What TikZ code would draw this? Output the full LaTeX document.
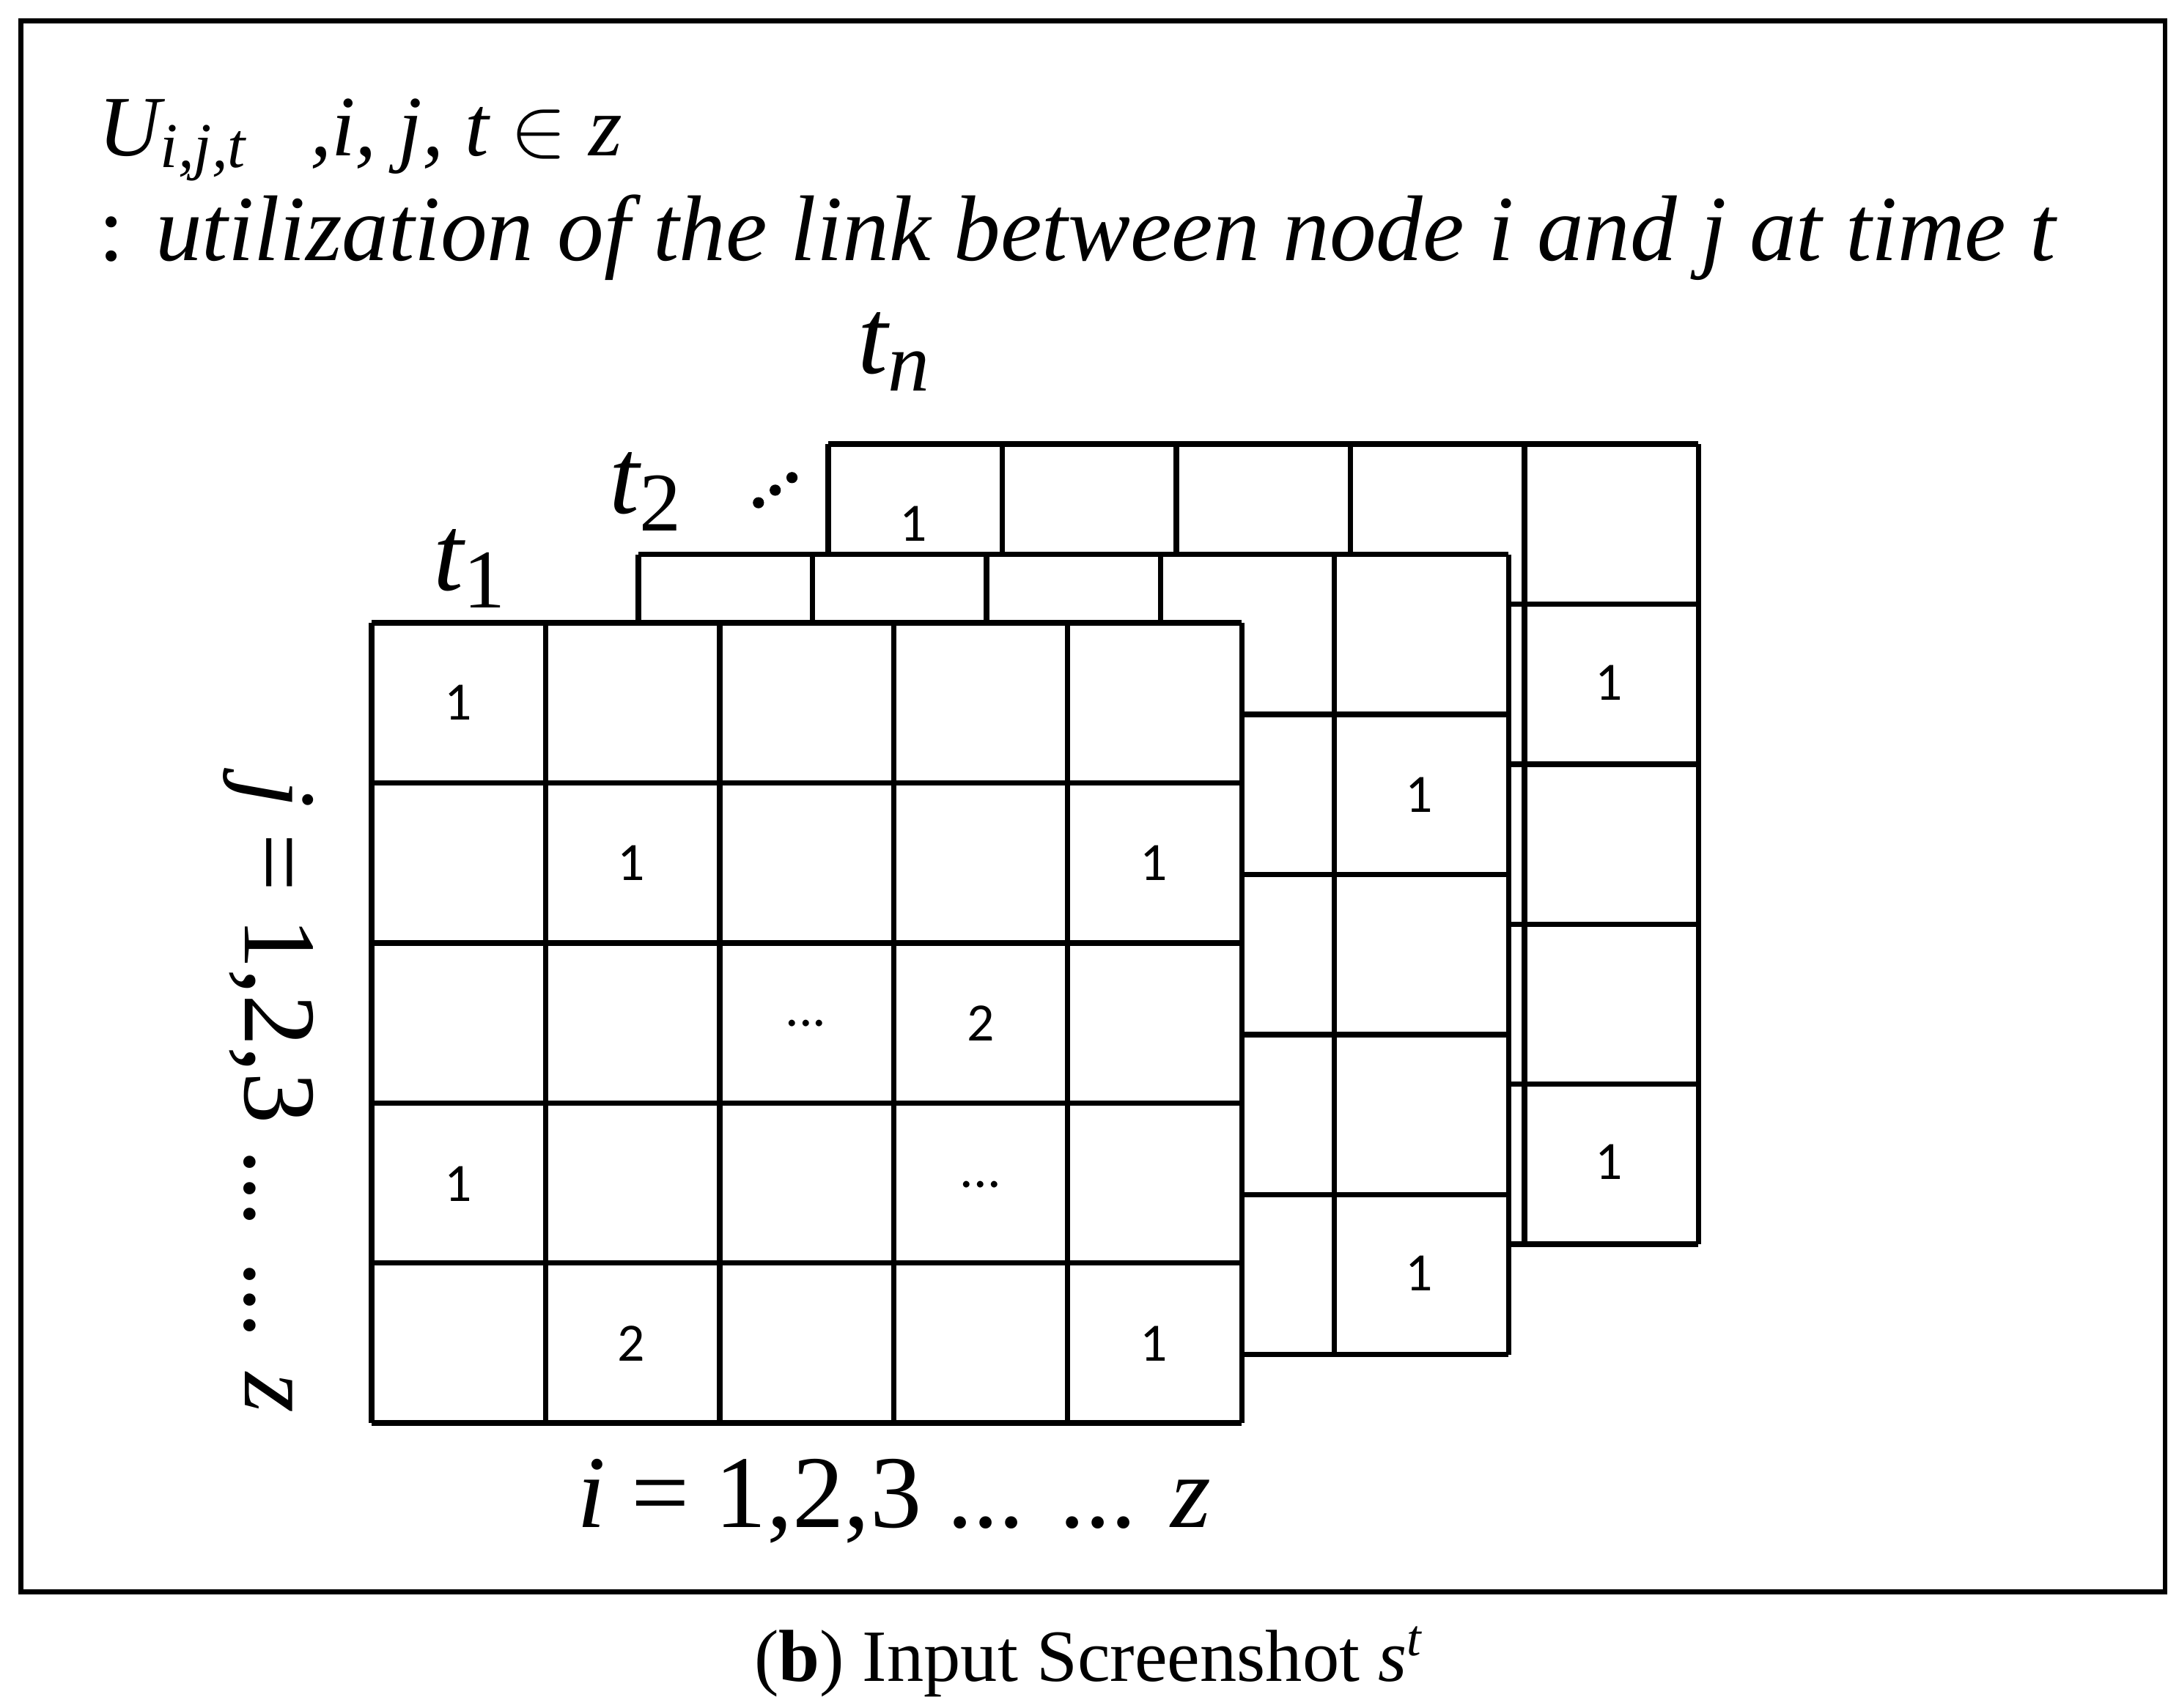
\documentclass[tikz,border=0pt]{standalone}
\usepackage{fontspec}
\newfontfamily\carlitofont{Carlito}
\newfontfamily\serifit{Liberation Serif}
\begin{document}
\begin{tikzpicture}[x=0.01cm,y=-0.01cm,
  cellnum/.style={font=\carlitofont\fontsize{11}{13}\selectfont},
  grid/.style={line width=1.1pt},
  biglab/.style={font=\serifit\fontsize{21}{24}\selectfont}]
\useasboundingbox (0,0) rectangle (1560,1223);
\draw[line width=1pt] (15,15) rectangle (1550,1140);
\node[anchor=west,font=\serifit\itshape\fontsize{17.5}{20}\selectfont] (hdr) at (58,100) {U\raisebox{-0.3ex}{\fontsize{13}{14}\selectfont i,j,t}\ \ \ ,i, j, t $\in$ z};
\node[anchor=west,font=\serifit\itshape\fontsize{19}{22}\selectfont] (def) at (58,170) {{\upshape:} utilization of the link between node i and j at time t};
\foreach \ox/\oy/\nm in {593/318/gn,457/397/g2,266/446/g1}{
  \fill[white] (\ox,\oy) rectangle ++(623,573);
  \foreach \k in {0,...,5}{
    \draw[grid] (\ox+\k*124.6,\oy) -- (\ox+\k*124.6,\oy+573);
    \draw[grid] (\ox,\oy+\k*114.6) -- (\ox+623,\oy+\k*114.6);
  }
  \coordinate (\nm) at (\ox,\oy);
}
\node[cellnum] (n1) at (654,375) {1};
\node[cellnum] (n2) at (1152,489) {1};
\node[cellnum] (n3) at (1152,832) {1};
\node[cellnum] (m1) at (1016,569) {1};
\node[cellnum] (m2) at (1016,912) {1};
\node[cellnum] (f11) at (328,503) {1};
\node[cellnum] (f22) at (452,618) {1};
\node[cellnum] (f25) at (826,618) {1};
\node[cellnum] (f33) at (577,733) {...};
\node[cellnum] (f34) at (702,733) {2};
\node[cellnum] (f41) at (328,848) {1};
\node[cellnum] (f44) at (702,848) {...};
\node[cellnum] (f52) at (452,962) {2};
\node[cellnum] (f55) at (826,962) {1};
\node[font=\serifit\itshape\fontsize{22}{24}\selectfont] (tn) at (640,252) {t\raisebox{-0.35ex}{\fontsize{17}{19}\selectfont n}};
\node[font=\serifit\itshape\fontsize{22}{24}\selectfont] (t2) at (462,352) {t\raisebox{-0.35ex}{\fontsize{17}{19}\selectfont\upshape 2}};
\foreach \p in {0,1,2}{\fill (543+\p*12,360-\p*9) circle (4);}
\node[font=\serifit\itshape\fontsize{22}{24}\selectfont] (t1) at (336,407) {t\raisebox{-0.35ex}{\fontsize{17}{19}\selectfont\upshape 1}};
\node[biglab,rotate=-90] (jl) at (192,785) {\textit{j} = 1,2,3 ... ... \textit{z}};
\node[biglab] (il) at (640,1075) {\textit{i} = 1,2,3 ... ... \textit{z}};
\node[font=\serifit\fontsize{15}{18}\selectfont] (cap) at (780,1190) {(\textbf{b}) Input Screenshot \textit{s}\textsuperscript{\textit{t}}};
\end{tikzpicture}
\end{document}
